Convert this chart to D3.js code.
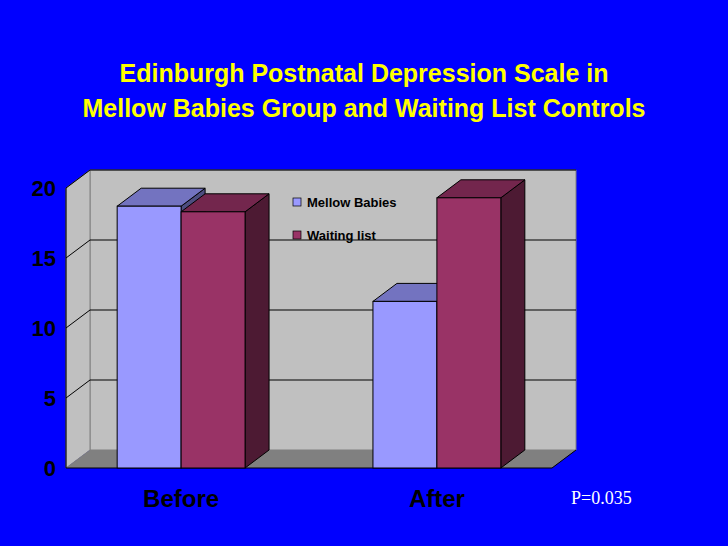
<!DOCTYPE html>
<html><head><meta charset="utf-8">
<script src="https://cdn.jsdelivr.net/npm/d3@7"></script>
<style>body{margin:0;background:#0000ff}</style></head>
<body><svg id="c" width="728" height="546"></svg>
<script>
const categories=["Before","After"];
const seriesNames=["Mellow Babies","Waiting list"];
const mellowBabies=[18.7,11.9];
const waitingList=[18.3,19.3];
const yTicks=[0,5,10,15,20];
const titleLines=["Edinburgh Postnatal Depression Scale in","Mellow Babies Group and Waiting List Controls"];
const note="P=0.035";

const svg=d3.select("#c");
svg.append("rect").attr("width",728).attr("height",546).attr("fill","#0000ff");
const font="Liberation Sans, Arial, sans-serif";
titleLines.forEach((t,i)=>svg.append("text").attr("x",364).attr("y",82+i*35).attr("text-anchor","middle")
 .attr("font-family",font).attr("font-weight","bold").attr("font-size",25).attr("fill","#ffff00").text(t));

const x0=66,x1=552,dx=24,dy=-18;
const y=d3.scaleLinear().domain([0,20]).range([468,188]);
const xb=d3.scaleBand().domain(categories).range([x0,x1]).paddingInner(0.5).paddingOuter(0.2);
// walls
svg.append("polygon").attr("points",`${x0+dx},${y(0)+dy} ${x1+dx},${y(0)+dy} ${x1+dx},${y(20)+dy} ${x0+dx},${y(20)+dy}`).attr("fill","#c0c0c0").attr("stroke","#808080");
svg.append("polygon").attr("points",`${x0},${y(0)} ${x0+dx},${y(0)+dy} ${x0+dx},${y(20)+dy} ${x0},${y(20)}`).attr("fill","#c0c0c0").attr("stroke","#808080");
svg.append("polygon").attr("points",`${x0},${y(0)} ${x1},${y(0)} ${x1+dx},${y(0)+dy} ${x0+dx},${y(0)+dy}`).attr("fill","#808080");
yTicks.slice(1).forEach(v=>{
 svg.append("polyline").attr("points",`${x0},${y(v)} ${x0+dx},${y(v)+dy} ${x1+dx},${y(v)+dy}`).attr("fill","none").attr("stroke","#000").attr("stroke-width",1);
});
svg.append("line").attr("x1",x0).attr("x2",x0).attr("y1",y(0)).attr("y2",y(20)).attr("stroke","#000");
svg.append("line").attr("x1",x0).attr("x2",x1).attr("y1",y(0)).attr("y2",y(0)).attr("stroke","#000");
svg.append("line").attr("x1",x1).attr("x2",x1+dx).attr("y1",y(0)).attr("y2",y(0)+dy).attr("stroke","#000");
yTicks.forEach(v=>svg.append("text").attr("x",56).attr("y",y(v)+8).attr("text-anchor","end")
 .attr("font-family",font).attr("font-weight","bold").attr("font-size",22).attr("fill","#000").text(v));
categories.forEach(c=>svg.append("text").attr("x",xb(c)+xb.bandwidth()/2).attr("y",507).attr("text-anchor","middle")
 .attr("font-family",font).attr("font-weight","bold").attr("font-size",24).attr("fill","#000").text(c));

const cols=[{front:"#9999ff",top:"#7373c0",side:"#4d4d80"},{front:"#993366",top:"#73264d",side:"#4d1a33"}];
const xs=d3.scaleBand().domain([0,1]).range([0,xb.bandwidth()]);
const series=[mellowBabies,waitingList];
categories.forEach((c,ci)=>{
 // draw right bar first? MB front overlaps WL; draw WL side before MB? order: series 0 then 1 so WL covers MB side
 series.forEach((s,si)=>{
  const L=xb(c)+xs(si),R=L+xs.bandwidth(),T=y(s[ci]),B=y(0);
  const g=svg.append("g").attr("stroke","#000").attr("stroke-width",1);
  g.append("polygon").attr("points",`${R},${B} ${R+dx},${B+dy} ${R+dx},${T+dy} ${R},${T}`).attr("fill",cols[si].side);
  g.append("polygon").attr("points",`${L},${T} ${L+dx},${T+dy} ${R+dx},${T+dy} ${R},${T}`).attr("fill",cols[si].top);
  g.append("rect").attr("x",L).attr("y",T).attr("width",R-L).attr("height",B-T).attr("fill",cols[si].front);
 });
});
// legend
seriesNames.forEach((n,i)=>{
 const ly=203+i*33;
 svg.append("rect").attr("x",293).attr("y",ly-5).attr("width",8).attr("height",8).attr("fill",cols[i].front).attr("stroke","#000").attr("stroke-width",0.7);
 svg.append("text").attr("x",307).attr("y",ly+4).attr("font-family",font).attr("font-weight","bold").attr("font-size",13).attr("fill","#000").text(n);
});
svg.append("text").attr("x",571).attr("y",504).attr("font-family","Liberation Serif, Times New Roman, serif").attr("font-size",18).attr("fill","#fff").text(note);
</script></body></html>
